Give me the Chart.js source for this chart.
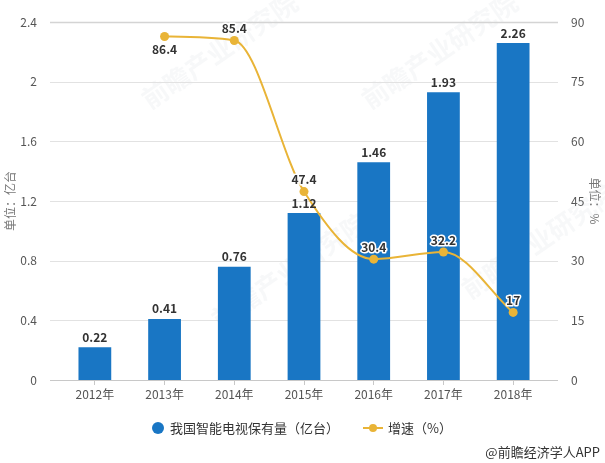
<!DOCTYPE html>
<html>
<head>
<meta charset="utf-8">
<script src="https://cdn.jsdelivr.net/npm/chart.js@4.4.1/dist/chart.umd.min.js"></script>
<style>
  html, body { margin: 0; padding: 0; background: #fff; }
  #wrap { width: 605px; height: 463px; }
</style>
</head>
<body>
<div id="wrap"><canvas id="tvChart" width="605" height="463"></canvas></div>
<script>
const years = ['2012年', '2013年', '2014年', '2015年', '2016年', '2017年', '2018年'];
const tvStock = [0.22, 0.41, 0.76, 1.12, 1.46, 1.93, 2.26];
const growth = [null, 86.4, 85.4, 47.4, 30.4, 32.2, 17];
const leftTicks = [0, 0.4, 0.8, 1.2, 1.6, 2, 2.4];
const rightTicks = [0, 15, 30, 45, 60, 75, 90];
const barLabel = '我国智能电视保有量（亿台）';
const lineLabel = '增速（%）';
const sourceText = '@前瞻经济学人APP';

const FONT = '"Noto Sans CJK SC", "Microsoft YaHei", sans-serif';
const BLUE = '#1976c4';
const GOLD = '#e9b437';

// 数据标签 + 网格线 + 图例 + 水印
const extrasPlugin = {
  id: 'extras',
  beforeDatasetsDraw(chart) {
    const ctx = chart.ctx;
    const yL = chart.scales.y;
    const area = chart.chartArea;
    ctx.save();
    // watermark
    ctx.fillStyle = 'rgba(190,195,205,0.12)';
    ctx.font = 'bold 26px ' + FONT;
    [[150, 110], [370, 110], [220, 330], [470, 300]].forEach(([x, y]) => {
      ctx.save();
      ctx.translate(x, y);
      ctx.rotate(-0.6);
      ctx.fillText('前瞻产业研究院', 0, 0);
      ctx.restore();
    });
    // grid lines extending past the category band
    leftTicks.forEach((v, i) => {
      const y = Math.round(yL.getPixelForValue(v)) + 0.5;
      ctx.strokeStyle = (i === 0) ? '#c8c8c8' : (i === leftTicks.length - 1 ? '#d4d4d4' : '#e2e2e2');
      ctx.lineWidth = (i === leftTicks.length - 1) ? 1.5 : 1;
      ctx.beginPath();
      ctx.moveTo(area.left - 10, y);
      ctx.lineTo(area.right + 10, y);
      ctx.stroke();
    });
    ctx.restore();
  },
  afterDatasetsDraw(chart) {
    const ctx = chart.ctx;
    ctx.save();
    ctx.font = 'bold 12px ' + FONT;
    ctx.textAlign = 'center';
    ctx.textBaseline = 'middle';
    ctx.lineJoin = 'round';

    const barMeta = chart.getDatasetMeta(1);
    barMeta.data.forEach((el, i) => {
      ctx.fillStyle = '#333';
      ctx.fillText(String(tvStock[i]), el.x, el.y - 10);
    });

    const lineMeta = chart.getDatasetMeta(0);
    lineMeta.data.forEach((el, i) => {
      if (growth[i] == null) return;
      const dy = (i === 1) ? 13 : -12;
      ctx.strokeStyle = '#fff';
      ctx.lineWidth = 3;
      ctx.strokeText(String(growth[i]), el.x, el.y + dy);
      ctx.fillStyle = '#333';
      ctx.fillText(String(growth[i]), el.x, el.y + dy);
    });
    ctx.restore();
  },
  afterDraw(chart) {
    const ctx = chart.ctx;
    ctx.save();
    ctx.font = '13px ' + FONT;
    ctx.textBaseline = 'middle';
    const w1 = ctx.measureText(barLabel).width;
    const w2 = ctx.measureText(lineLabel).width;
    const total = 12 + 6 + w1 + 24 + 20 + 5 + w2;
    let x = 302 - total / 2;
    const y = 428;
    ctx.fillStyle = BLUE;
    ctx.beginPath();
    ctx.arc(x + 6, y, 6, 0, Math.PI * 2);
    ctx.fill();
    x += 18;
    ctx.fillStyle = '#333';
    ctx.fillText(barLabel, x, y);
    x += w1 + 24;
    ctx.strokeStyle = GOLD;
    ctx.lineWidth = 2;
    ctx.beginPath();
    ctx.moveTo(x, y);
    ctx.lineTo(x + 20, y);
    ctx.stroke();
    ctx.fillStyle = GOLD;
    ctx.beginPath();
    ctx.arc(x + 10, y, 4, 0, Math.PI * 2);
    ctx.fill();
    x += 25;
    ctx.fillStyle = '#333';
    ctx.fillText(lineLabel, x, y);

    ctx.textAlign = 'right';
    ctx.fillStyle = '#333';
    ctx.fillText(sourceText, 600, 452);
    ctx.restore();
  }
};

const ctx = document.getElementById('tvChart').getContext('2d');
new Chart(ctx, {
  data: {
    labels: years,
    datasets: [
      {
        type: 'line',
        label: lineLabel,
        data: growth,
        yAxisID: 'y1',
        borderColor: GOLD,
        backgroundColor: GOLD,
        borderWidth: 2,
        pointRadius: 4.5,
        pointBackgroundColor: GOLD,
        pointBorderWidth: 0,
        cubicInterpolationMode: 'monotone',
        order: 0
      },
      {
        type: 'bar',
        label: barLabel,
        data: tvStock,
        yAxisID: 'y',
        backgroundColor: BLUE,
        barPercentage: 0.47,
        categoryPercentage: 1,
        order: 1
      }
    ]
  },
  options: {
    responsive: false,
    animation: false,
    layout: { padding: { top: 7, left: 0, right: 0, bottom: 0 } },
    plugins: {
      legend: { display: false },
      tooltip: { enabled: false }
    },
    scales: {
      x: {
        grid: { display: true, drawOnChartArea: false, offset: false, color: '#c8c8c8', tickLength: 5 },
        border: { display: false },
        ticks: { color: '#555', font: { family: FONT, size: 12 }, padding: 2 },
        afterFit(scale) { scale.height = 83; }
      },
      y: {
        position: 'left',
        min: 0, max: 2.4,
        afterBuildTicks(scale) { scale.ticks = leftTicks.map(v => ({ value: v })); },
        grid: { display: false },
        border: { display: false },
        ticks: { color: '#555', font: { family: FONT, size: 12 }, padding: 15, callback: v => String(v) },
        title: { display: true, text: '单位：亿台', color: '#777', font: { family: FONT, size: 12 }, padding: { top: 3, bottom: 0 } },
        afterFit(scale) { scale.width = 60; }
      },
      y1: {
        position: 'right',
        min: 0, max: 90,
        afterBuildTicks(scale) { scale.ticks = rightTicks.map(v => ({ value: v })); },
        grid: { display: false },
        border: { display: false },
        ticks: { color: '#555', font: { family: FONT, size: 12 }, padding: 15, callback: v => String(v) },
        title: { display: true, text: '单位：%', color: '#777', font: { family: FONT, size: 12 }, padding: { top: 3, bottom: 0 } },
        afterFit(scale) { scale.width = 57; }
      }
    }
  },
  plugins: [extrasPlugin]
});
</script>
</body>
</html>
